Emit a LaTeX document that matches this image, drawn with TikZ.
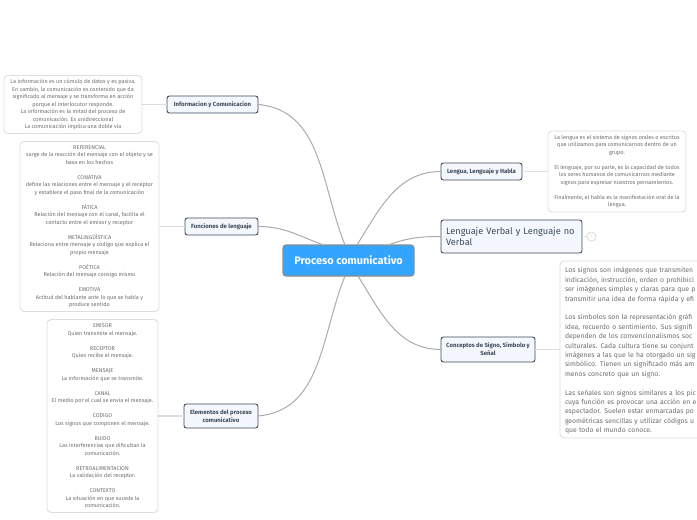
\documentclass[tikz,border=0pt]{standalone}
\usepackage{fontspec}
\setmainfont{Fira Sans}
\usetikzlibrary{positioning}
\definecolor{rootblue}{HTML}{33A5FF}
\definecolor{rootedge}{HTML}{8C8C8C}
\definecolor{topicfill}{HTML}{F4F8FE}
\definecolor{topicedge}{HTML}{3F4A59}
\definecolor{linegray}{HTML}{ABABAB}
\definecolor{notegray}{HTML}{DEDEDE}
\definecolor{notetext}{HTML}{6E6E6E}

\begin{document}
\begin{tikzpicture}[x=1pt,y=1pt,node distance=25pt,
		branch/.style={draw=linegray,line width=1pt},
		twig/.style={draw=notegray,line width=1.2pt},
		every node/.style={inner sep=0pt,outer sep=0pt}]
		\tikzstyle{root}=[draw=rootedge,fill=rootblue,text=white,line width=1.1pt,rounded corners=3pt,minimum width=131pt,minimum height=31pt,font=\fontsize{10.9}{12}\selectfont\bfseries]
		\tikzstyle{topic}=[draw=topicedge,fill=topicfill,text=topicedge,line width=.9pt,rounded corners=2.5pt,align=center,font=\fontsize{6}{8}\selectfont\bfseries]
		\tikzstyle{note}=[draw=notegray,fill=white,text=notetext,line width=.9pt,rounded corners=4pt,align=center,font=\fontsize{5.5}{7.5}\selectfont,execute at begin node=\rule{0pt}{8pt}]
		
		\useasboundingbox (0,0) rectangle (697,-520);
		
		\node[root]  (proceso) at (348.5,-260.5) {Proceso comunicativo};
		
		\node[topic,minimum width=91pt,minimum height=17pt]  (informacion) [above left=132pt and 25pt of proceso.north west,anchor=south east] {Informacion y Comunicacion};
		\node[topic,minimum width=73pt,minimum height=17pt]  (funciones) [above left=10pt and 25pt of proceso.north west,anchor=south east] {Funciones de lenguaje};
		\node[topic,minimum width=74pt,minimum height=24pt]  (elementos) [below left=128pt and 25pt of proceso.south west,anchor=north east] {Elementos del proceso\\comunicativo};
		\node[topic,minimum width=81pt,minimum height=17pt]  (lengua) [above right=65pt and 27pt of proceso.north east,anchor=south west] {Lengua, Lenguaje y Habla};
		\node[topic,minimum width=141pt,minimum height=33pt,text width=131pt,align=left,font=\fontsize{9.2}{11.8}\selectfont]  (verbal) [above right=-8pt and 27pt of proceso.north east,anchor=south west] {Lenguaje Verbal y Lenguaje no\\Verbal};
		\node[topic,minimum width=94pt,minimum height=25pt]  (conceptos) [below right=61pt and 27pt of proceso.south east,anchor=north west] {Conceptos de Signo, Simbolo y\\Señal};
		
		\node[note,minimum width=138pt,minimum height=58pt]  (infonote) [left=25pt of informacion] {La información es un cúmulo de datos y es pasiva.\\En cambio, la comunicación es contenido que da\\significado al mensaje y se transforma en acción\\porque el interlocutor responde.\\La información es la mitad del proceso de\\comunicación. Es unidireccional\\La comunicación implica una doble vía};
		\node[note,minimum width=139pt,minimum height=170pt]  (funcnote) [left=26pt of funciones] {REFERENCIAL\\surge de la reacción del mensaje con el objeto y se\\basa en los hechos\\[7.5pt]CONATIVA\\define las relaciones entre el mensaje y el receptor\\y establece el paso final de la comunicación\\[7.5pt]FÁTICA\\Relación del mensaje con el canal, facilita el\\contacto entre el emisor y receptor\\[7.5pt]METALINGÜÍSTICA\\Relaciona entre mensaje y código que explica el\\propio mensaje\\[7.5pt]POÉTICA\\Relación del mensaje consigo mismo\\[7.5pt]EMOTIVA\\Actitud del hablante ante lo que se habla y\\produce sentido};
		\node[note,minimum width=111pt,minimum height=193pt]  (elemnote) [left=26pt of elementos] {EMISOR\\Quien transmite el mensaje.\\[7.5pt]RECEPTOR\\Quien recibe el mensaje.\\[7.5pt]MENSAJE\\La información que se transmite.\\[7.5pt]CANAL\\El medio por el cual se envía el mensaje.\\[7.5pt]CODIGO\\Los signos que componen el mensaje.\\[7.5pt]RUIDO\\Las interferencias que dificultan la\\comunicación.\\[7.5pt]RETROALIMENTACION\\La validación del receptor.\\[7.5pt]CONTEXTO\\La situación en que sucede la\\comunicación.};
		\node[note,minimum width=138pt,minimum height=81pt]  (lengnote) [right=26pt of lengua] {La lengua es el sistema de signos orales o escritos\\que utilizamos para comunicarnos dentro de un\\grupo.\\[7.5pt]El lenguaje, por su parte, es la capacidad de todos\\los seres humanos de comunicarnos mediante\\signos para expresar nuestros pensamientos.\\[7.5pt]Finalmente, el habla es la manifestación oral de la\\lengua.};
		\node[note,minimum width=160pt,minimum height=177pt,text width=150pt,align=left,font=\fontsize{6.85}{9.4}\selectfont]  (concnote) [right=25pt of conceptos] {Los signos son imágenes que transmiten\\indicación, instrucción, orden o prohibici\\ser imágenes simples y claras para que p\\transmitir una idea de forma rápida y efi\\[9.4pt]Los símbolos son la representación gráfi\\idea, recuerdo o sentimiento. Sus signifi\\dependen de los convencionalismos soc\\culturales. Cada cultura tiene su conjunt\\imágenes a las que le ha otorgado un sig\\simbólico. Tienen un significado más am\\menos concreto que un signo.\\[9.4pt]Las señales son signos similares a los pic\\cuya función es provocar una acción en e\\espectador. Suelen estar enmarcadas po\\geométricas sencillas y utilizar códigos u\\que todo el mundo conoce.};
		\node[draw=notegray,fill=white,text=notegray,circle,line width=.9pt,minimum size=9pt,font=\fontsize{5}{6}\selectfont] (contador) [right=5pt of verbal] {1};
		
		\path[branch]
		(informacion.east) edge [out=-5,in=112] ([xshift=-3.5pt]proceso.north);
		\path[branch]
		(funciones.east) edge [out=0,in=160] ([xshift=-25pt]proceso.north);
		\path[branch]
		(elementos.east) edge [out=5,in=-112] ([xshift=-3.5pt]proceso.south);
		\path[branch]
		(lengua.west) edge [out=180,in=58] ([xshift=8.5pt]proceso.north);
		\path[branch]
		(verbal.west) edge [out=180,in=20] ([xshift=39.5pt]proceso.north);
		\path[branch]
		(conceptos.west) edge [out=180,in=-58] ([xshift=9.5pt]proceso.south);
		
		\draw[twig] (infonote.east) -- (informacion.west);
		\draw[twig] (funcnote.east) -- (funciones.west);
		\draw[twig] (elemnote.east) -- (elementos.west);
		\draw[twig] (lengua.east) -- (lengnote.west);
		\draw[twig] (conceptos.east) -- (concnote.west);
		\draw[twig] (verbal.east) -- (contador.west);
		\end{tikzpicture}
\end{document}
